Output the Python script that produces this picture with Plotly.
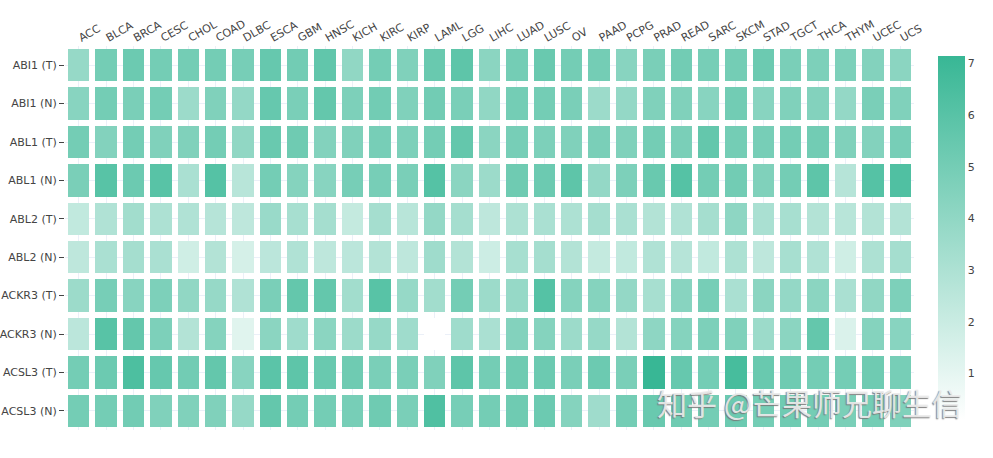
import plotly.graph_objects as go

cancers = ["ACC", "BLCA", "BRCA", "CESC", "CHOL", "COAD", "DLBC", "ESCA", "GBM", "HNSC",
           "KICH", "KIRC", "KIRP", "LAML", "LGG", "LIHC", "LUAD", "LUSC", "OV", "PAAD",
           "PCPG", "PRAD", "READ", "SARC", "SKCM", "STAD", "TGCT", "THCA", "THYM", "UCEC", "UCS"]

genes = ["ABI1 (T)", "ABI1 (N)", "ABL1 (T)", "ABL1 (N)", "ABL2 (T)",
         "ABL2 (N)", "ACKR3 (T)", "ACKR3 (N)", "ACSL3 (T)", "ACSL3 (N)"]

# log2 expression, one list per row (gene / tissue)
abi1_t = [3.8, 5.0, 5.3, 5.0, 5.0, 5.0, 4.9, 5.5, 5.1, 5.7, 4.0, 5.0, 4.6, 5.4, 5.8, 4.2,
          5.0, 5.4, 5.0, 5.0, 4.3, 4.8, 5.1, 4.9, 5.0, 5.3, 4.8, 4.7, 4.7, 4.5, 4.2]
abi1_n = [4.3, 5.0, 4.8, 5.0, 3.6, 4.6, 3.9, 5.5, 4.8, 5.6, 4.7, 5.1, 4.6, 5.1, 4.8, 4.0,
          5.0, 5.0, 4.8, 3.6, 3.9, 4.6, 4.6, 4.3, 5.1, 4.3, 4.6, 4.5, 3.9, 4.8, 4.6]
abl1_t = [5.0, 4.5, 5.0, 4.6, 4.6, 5.0, 4.0, 5.4, 5.2, 4.5, 4.6, 4.9, 4.7, 5.0, 5.6, 4.2,
          4.9, 4.7, 4.6, 4.8, 4.6, 5.0, 4.8, 5.6, 5.0, 4.9, 5.0, 5.1, 4.6, 4.5, 4.9]
abl1_n = [4.8, 6.0, 5.3, 6.0, 3.1, 6.1, 2.6, 5.0, 4.4, 4.3, 4.9, 4.9, 4.8, 6.1, 4.2, 3.6,
          5.2, 5.3, 5.8, 3.9, 4.7, 5.4, 6.1, 5.0, 5.1, 4.6, 5.0, 5.8, 2.7, 6.1, 6.3]
abl2_t = [2.3, 2.9, 3.4, 3.0, 2.9, 2.7, 2.4, 3.7, 3.2, 3.3, 2.2, 3.3, 2.6, 3.9, 3.3, 2.4,
          3.0, 3.1, 3.0, 3.3, 3.1, 2.8, 2.9, 3.3, 4.1, 3.1, 3.2, 2.8, 2.6, 2.8, 2.8]
abl2_n = [2.4, 3.1, 3.3, 3.1, 1.8, 2.8, 1.6, 2.5, 2.9, 2.4, 2.5, 2.8, 2.4, 3.5, 2.8, 1.9,
          3.2, 3.3, 2.8, 2.2, 2.3, 2.9, 2.7, 2.3, 3.0, 2.4, 3.2, 2.9, 1.8, 3.0, 3.3]
ackr3_t = [3.6, 4.9, 4.3, 4.7, 4.0, 3.8, 2.9, 4.8, 5.6, 5.6, 3.4, 6.0, 3.8, 3.4, 5.0, 3.6,
           3.8, 6.1, 4.4, 4.4, 3.9, 3.2, 4.3, 4.9, 3.1, 4.2, 3.9, 4.2, 3.1, 4.0, 4.7]
ackr3_n = [2.5, 6.0, 5.6, 4.7, 2.8, 4.4, 1.2, 4.2, 3.5, 4.2, 3.6, 3.8, 3.5, 0.1, 3.5, 3.1,
           4.5, 4.4, 3.6, 3.8, 2.8, 4.1, 4.4, 4.7, 4.6, 3.6, 4.2, 5.6, 1.4, 4.4, 4.3]
acsl3_t = [5.0, 5.3, 6.4, 5.5, 5.1, 5.6, 4.3, 5.9, 5.8, 5.4, 5.2, 4.8, 4.8, 4.6, 5.8, 5.0,
           5.2, 5.3, 4.8, 5.3, 4.8, 7.14, 5.5, 5.0, 6.6, 5.4, 5.2, 5.0, 5.0, 5.2, 4.9]
acsl3_n = [5.0, 5.0, 5.1, 4.6, 4.6, 4.6, 3.8, 5.6, 5.0, 5.0, 4.9, 5.2, 4.8, 6.3, 4.9, 5.0,
           5.2, 5.3, 4.4, 3.5, 5.0, 5.4, 5.2, 5.0, 5.3, 5.0, 5.2, 5.0, 4.8, 5.0, 4.6]

z = [abi1_t, abi1_n, abl1_t, abl1_n, abl2_t, abl2_n, ackr3_t, ackr3_n, acsl3_t, acsl3_n]

fig = go.Figure(go.Heatmap(
    z=z, x=cancers, y=genes,
    colorscale=[[0, "#ffffff"], [1, "#38b795"]],
    xgap=6, ygap=6,
    colorbar=dict(thickness=27, x=1.015, len=1, outlinewidth=0,
                  tickfont=dict(family="DejaVu Sans", size=11, color="#444")),
))

fig.update_layout(
    template="plotly_white",
    width=993, height=458,
    margin=dict(l=65, r=78, t=46, b=28),
    font=dict(family="DejaVu Sans", size=11, color="#444"),
    xaxis=dict(side="top", tickangle=-30, showgrid=True, zeroline=False, automargin=False),
    yaxis=dict(autorange="reversed", ticks="outside", ticklen=5, tickcolor="#444",
               showgrid=True, zeroline=False, automargin=False),
)

fig.add_annotation(
    text="知乎 @芒果师兄聊生信", xref="paper", yref="paper", x=1.059, y=0.01,
    xanchor="right", yanchor="bottom", showarrow=False,
    font=dict(family="Noto Sans CJK SC", size=30, color="rgba(236,236,236,0.92)",
              shadow="-1px 1px 1px #777"),
)

# drop the browser's default body margin so the figure sits at the window corner
fig.write_html("out.html", config={"displayModeBar": False},
               post_script="document.body.style.margin='0px';")
